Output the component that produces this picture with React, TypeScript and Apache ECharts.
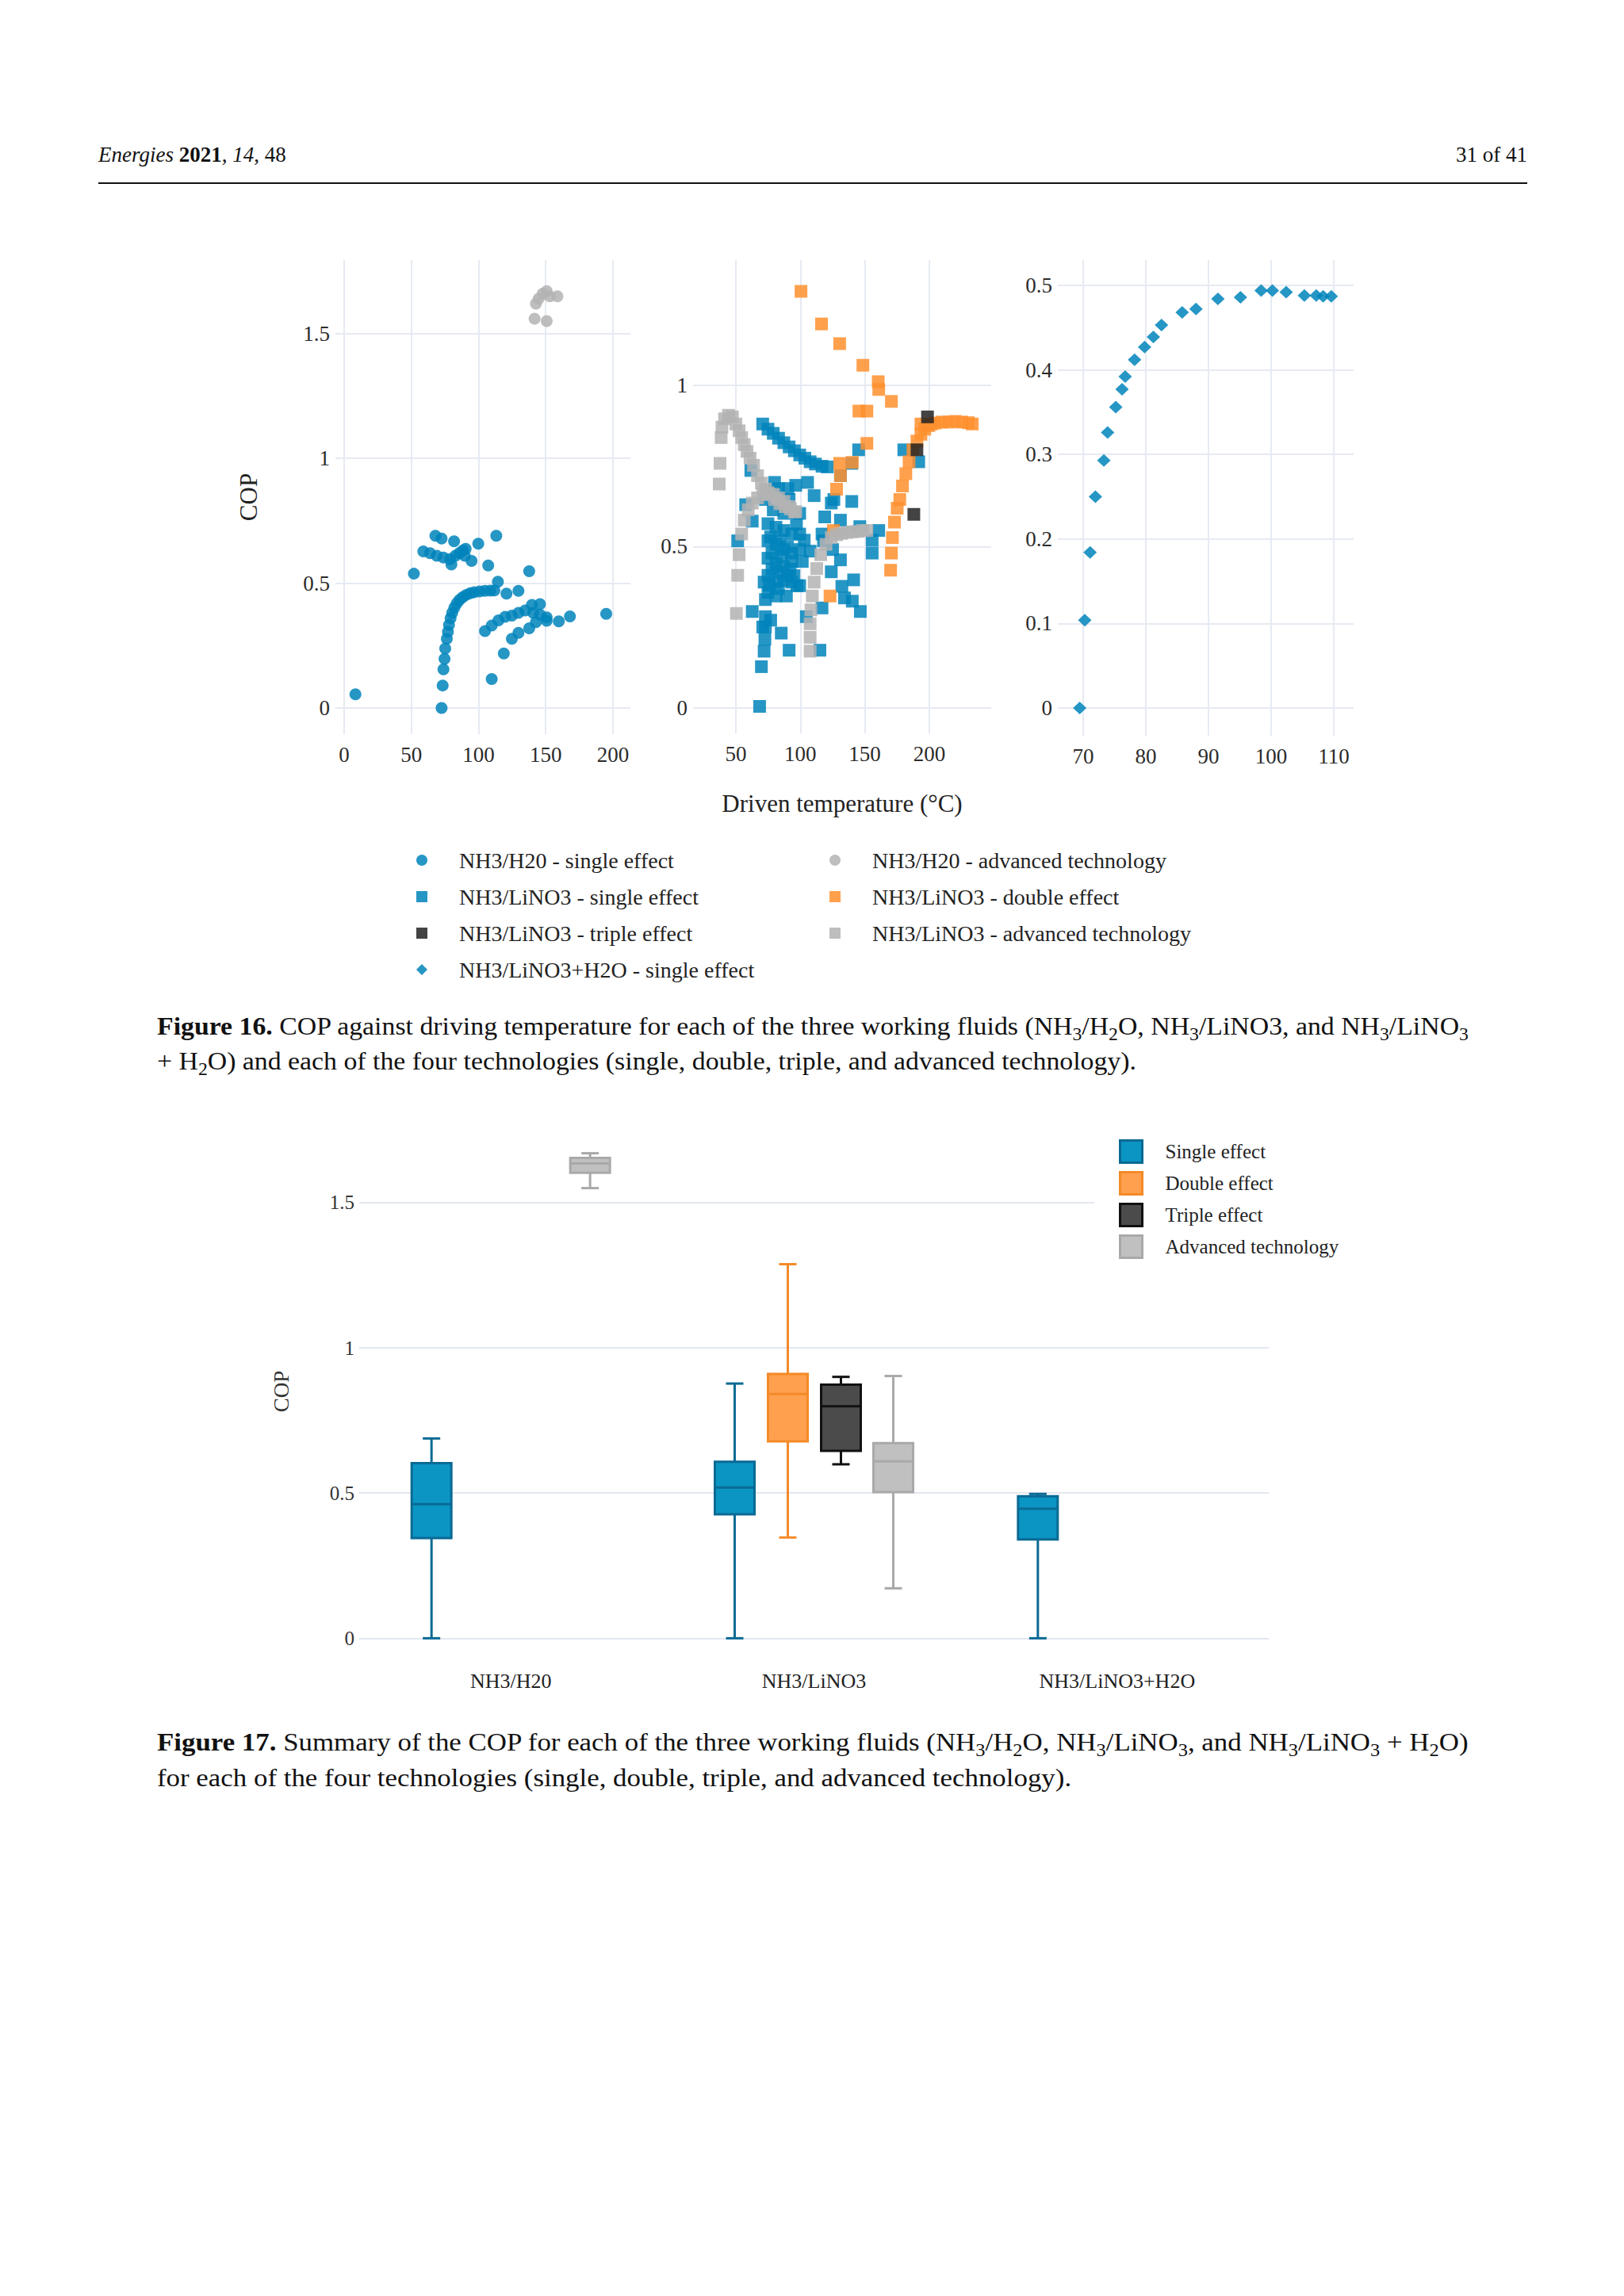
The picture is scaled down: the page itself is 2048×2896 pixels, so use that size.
import { useEffect, useLayoutEffect, useRef } from 'react';
import * as echarts from 'echarts';

const FONT = '"Liberation Serif", "Times New Roman", serif';
const GRID_COLOR = '#e6eaf2';

// Figure 16, left panel: NH3/H2O
const nh3h2oSingle = [
  [8.4, 0.055], [51.9, 0.538], [72.5, 0], [73.3, 0.09], [73.9, 0.155], [74.7, 0.197], [75.2, 0.238],
  [76.4, 0.277], [77.2, 0.305], [78, 0.333], [79.2, 0.36], [80.4, 0.381], [82, 0.402], [83.8, 0.419],
  [85.8, 0.433], [88.2, 0.444], [90.8, 0.453], [93.8, 0.46], [96.8, 0.464], [100.8, 0.467], [104.8, 0.469],
  [108.8, 0.47], [111.8, 0.471], [114.4, 0.506], [120.8, 0.458], [129.7, 0.469],
  [58.9, 0.627], [63.9, 0.62], [68.9, 0.61], [73.9, 0.603], [78.8, 0.596], [82.8, 0.61], [85.8, 0.621],
  [88.4, 0.631], [90.4, 0.638], [89.8, 0.61], [94.8, 0.589], [79.8, 0.575],
  [67.9, 0.69], [72.5, 0.679], [81.8, 0.668], [99.8, 0.658], [113.2, 0.69], [107.2, 0.571], [137.7, 0.548],
  [104.8, 0.308], [109.8, 0.33], [114.8, 0.351], [119.8, 0.365], [124.8, 0.37], [129.7, 0.381], [134.7, 0.391],
  [139.7, 0.413], [145.7, 0.416], [140.7, 0.381], [145.7, 0.374], [150.7, 0.363], [150.7, 0.349], [159.7, 0.347],
  [168, 0.367], [195, 0.377], [137.7, 0.319], [142.7, 0.344], [129.7, 0.301], [124.8, 0.277], [118.8, 0.218],
  [109.8, 0.116],
];
const nh3h2oAdvanced = [
  [141.7, 1.56], [150.7, 1.55], [142.7, 1.62], [144.7, 1.64], [147.7, 1.66], [150.7, 1.67], [153, 1.65], [158.7, 1.65],
];

// Figure 16, middle panel: NH3/LiNO3
const lino3Single = [
  [70.8, 0.88], [74.9, 0.864], [79, 0.851], [83.1, 0.836], [87.2, 0.822], [91.3, 0.809], [95.4, 0.797],
  [99.5, 0.784], [103.5, 0.774], [107.6, 0.763], [111.7, 0.756], [116.8, 0.749], [120.9, 0.747],
  [68.4, 0.005], [69.8, 0.128], [71.9, 0.176], [72.5, 0.213], [72.9, 0.251], [72.9, 0.283], [72.9, 0.336],
  [62.7, 0.299], [85.2, 0.232], [91.3, 0.179], [115.2, 0.179], [116.8, 0.31], [104.6, 0.283], [51.4, 0.518],
  [62.7, 0.579], [57.6, 0.63], [61.6, 0.736], [80, 0.699], [90.3, 0.68], [96.4, 0.69], [105.6, 0.699],
  [110.7, 0.658], [124, 0.635], [131.1, 0.72], [139.9, 0.758], [145.2, 0.8], [139.9, 0.64], [131.1, 0.582],
  [146.1, 0.562], [160.8, 0.55], [155.7, 0.52], [155.7, 0.48], [117.9, 0.518], [125, 0.491], [131.1, 0.459],
  [124, 0.422], [132.2, 0.377], [141.3, 0.397], [140.3, 0.331], [146.5, 0.299], [134.2, 0.341], [180.2, 0.8],
  [191.8, 0.763],
  [74.9, 0.571], [81.1, 0.56], [87.2, 0.55], [93.3, 0.539], [74.9, 0.518], [81.1, 0.507], [87.2, 0.491],
  [93.3, 0.48], [99.5, 0.491], [107.6, 0.486], [74.9, 0.464], [81.1, 0.448], [87.2, 0.438], [93.3, 0.454],
  [74.9, 0.411], [81.1, 0.39], [87.2, 0.395], [93.3, 0.39], [99.5, 0.379], [74.9, 0.358], [81.1, 0.347],
  [89.2, 0.347], [97.4, 0.379], [79, 0.614], [87.2, 0.603], [91.3, 0.646], [72.9, 0.646], [99.5, 0.603],
  [83.1, 0.68], [99.5, 0.539], [101.5, 0.454], [70.8, 0.251], [77, 0.272], [71.9, 0.39], [116.8, 0.539],
  [118.9, 0.592], [126, 0.646], [77, 0.53], [84, 0.52], [90, 0.5], [78, 0.48], [85, 0.47], [92, 0.43],
  [78, 0.43], [84, 0.42], [90, 0.41], [76, 0.38], [83, 0.37], [95, 0.41], [103, 0.52], [97, 0.57],
];
const lino3Double = [
  [100.5, 1.291], [116.4, 1.19], [130.5, 1.129], [148.5, 1.062], [160.4, 1.011], [160.8, 0.987], [170.6, 0.95],
  [145.4, 0.92], [151.6, 0.92], [151.6, 0.82], [140.3, 0.761], [130.5, 0.758], [131.1, 0.72], [128.1, 0.678],
  [125.6, 0.55], [123, 0.347],
  [170, 0.427], [170.6, 0.48], [171.4, 0.528], [173, 0.576], [175.1, 0.619], [177.1, 0.646], [179.2, 0.688],
  [181.8, 0.726], [184.3, 0.763], [187.3, 0.8], [190.4, 0.827], [193.5, 0.848], [196.5, 0.864], [199.6, 0.875],
  [193.5, 0.88], [201.6, 0.88], [204.7, 0.883], [209.8, 0.886], [214.9, 0.886], [220, 0.888], [225.2, 0.886],
  [230.3, 0.884], [233.3, 0.88],
];
const lino3Triple = [[198.6, 0.902], [190.4, 0.8], [188, 0.6]];
const lino3Advanced = [
  [37.1, 0.694], [37.7, 0.758], [38.6, 0.838], [39.2, 0.87], [41.2, 0.896], [44.3, 0.907], [47.3, 0.902],
  [50, 0.88], [52.5, 0.859], [54.5, 0.838], [56.5, 0.816], [58.6, 0.795], [61, 0.774], [63.7, 0.752],
  [66.8, 0.72], [69.8, 0.697], [72.9, 0.678], [76, 0.662], [80, 0.646], [84.1, 0.633], [88.2, 0.624],
  [92.3, 0.617], [96.4, 0.608],
  [50.4, 0.293], [51.4, 0.411], [52.5, 0.475], [54.5, 0.539], [56.5, 0.582], [59.6, 0.614], [62.7, 0.635],
  [66.8, 0.651], [70.8, 0.662], [74.9, 0.667], [79, 0.662], [83.1, 0.651], [87.2, 0.64], [91.3, 0.624],
  [95.4, 0.608],
  [107.6, 0.176], [107.6, 0.219], [107.6, 0.261], [108.2, 0.304], [109.3, 0.347], [110.7, 0.39], [112.7, 0.432],
  [115.8, 0.475], [119.9, 0.507], [124, 0.528], [128.1, 0.537], [132.2, 0.541], [136.2, 0.544], [140.3, 0.546],
  [144.4, 0.547], [148.5, 0.55], [151.6, 0.55],
];

// Figure 16, right panel: NH3/LiNO3+H2O
const lino3h2oSingle = [
  [69.45, 0], [70.25, 0.104], [71.1, 0.184], [71.95, 0.25], [73.3, 0.293], [73.9, 0.326], [75.2, 0.356],
  [76.2, 0.377], [76.7, 0.392], [78.2, 0.412], [79.8, 0.427], [81.2, 0.439], [82.5, 0.453], [85.8, 0.468],
  [88, 0.472], [91.5, 0.484], [95.1, 0.486], [98.4, 0.494], [100.2, 0.494], [102.4, 0.492], [105.3, 0.488],
  [107.2, 0.488], [108.3, 0.487], [109.6, 0.487],
];

// Figure 17: [category index, min, Q1, median, Q3, max]
const boxCategories = ['NH3/H20', 'NH3/LiNO3', 'NH3/LiNO3+H2O'];
const boxSingle = [
  [0, 0, 0.345, 0.462, 0.603, 0.688],
  [1, 0, 0.427, 0.519, 0.608, 0.877],
  [2, 0, 0.34, 0.446, 0.489, 0.497],
];
const boxDouble = [[1, 0.347, 0.678, 0.841, 0.91, 1.288]];
const boxTriple = [[1, 0.599, 0.645, 0.799, 0.873, 0.9]];
const boxAdvanced = [
  [0, 1.55, 1.603, 1.635, 1.654, 1.67],
  [1, 0.172, 0.503, 0.609, 0.672, 0.903],
];

const legendLeft = [
  'NH3/H20 - single effect',
  'NH3/LiNO3 - single effect',
  'NH3/LiNO3 - triple effect',
  'NH3/LiNO3+H2O - single effect',
];
const legendRight = [
  'NH3/H20 - advanced technology',
  'NH3/LiNO3 - double effect',
  'NH3/LiNO3 - advanced technology',
];

const tickStyle = { fontFamily: FONT, fontSize: 27, color: '#2b2b2b' };

function valueAxis(gridIndex: number, min: number, max: number, isX: boolean, extra: any = {}) {
  return {
    type: 'value',
    gridIndex,
    min,
    max,
    axisLine: { show: false },
    axisTick: { show: false },
    axisLabel: { ...tickStyle, margin: isX ? 12 : 7, showMinLabel: false, showMaxLabel: false },
    splitLine: {
      show: true,
      showMinLine: false,
      showMaxLine: false,
      lineStyle: { color: GRID_COLOR, width: 2 },
    },
    ...extra,
  };
}

function scatter(name: string, data: number[][], grid: number, symbol: string, size: any, color: string) {
  return {
    type: 'scatter',
    name,
    data,
    xAxisIndex: grid,
    yAxisIndex: grid,
    symbol,
    symbolSize: size,
    itemStyle: { color, opacity: 0.85 },
  };
}

function boxSeries(name: string, data: number[][], offset: number, fill: string, stroke: string) {
  return {
    type: 'custom',
    name,
    data,
    xAxisIndex: 3,
    yAxisIndex: 3,
    encode: { x: 0, y: [1, 2, 3, 4, 5] },
    itemStyle: { color: fill, borderColor: stroke },
    renderItem: (_params: any, api: any) => {
      const cat = api.value(0);
      const x = api.coord([cat, 0])[0] + offset;
      const y = (i: number) => api.coord([cat, api.value(i)])[1];
      const yMin = y(1);
      const yQ1 = y(2);
      const yMed = y(3);
      const yQ3 = y(4);
      const yMax = y(5);
      const line = (x1: number, y1: number, x2: number, y2: number) => ({
        type: 'line',
        shape: { x1, y1, x2, y2 },
        style: { stroke, lineWidth: 3 },
      });
      return {
        type: 'group',
        children: [
          line(x, yMax, x, yQ3),
          line(x, yQ1, x, yMin),
          line(x - 11, yMax, x + 11, yMax),
          line(x - 11, yMin, x + 11, yMin),
          {
            type: 'rect',
            shape: { x: x - 25, y: yQ3, width: 50, height: yQ1 - yQ3 },
            style: { fill, stroke, lineWidth: 3 },
          },
          line(x - 25, yMed, x + 25, yMed),
        ],
      };
    },
  };
}

const BLUE = '#0084bb';
const ORANGE = '#ff8f2e';
const GRAY = '#b3b3b3';
const DARK = '#222222';

function buildOption(): any {
  return {
    animation: false,
    textStyle: { fontFamily: FONT },
    grid: [
      { left: 423, top: 328, width: 372, height: 598 },
      { left: 874, top: 328, width: 376, height: 597 },
      { left: 1334, top: 328, width: 373, height: 600 },
      { left: 453, top: 1407, width: 1147, height: 696 },
    ],
    xAxis: [
      valueAxis(0, -6.49, 213, true),
      valueAxis(1, 16.8, 248, true, {
        name: 'Driven temperature (°C)',
        nameLocation: 'middle',
        nameGap: 73,
        nameTextStyle: { fontFamily: FONT, fontSize: 31, color: '#222' },
      }),
      valueAxis(2, 65.95, 113.16, true),
      {
        type: 'category',
        gridIndex: 3,
        data: boxCategories,
        axisLine: { show: false },
        axisTick: { show: false },
        splitLine: { show: false },
        axisLabel: { fontFamily: FONT, fontSize: 26, color: '#222', margin: 4 },
      },
    ],
    yAxis: [
      valueAxis(0, -0.105, 1.795, false, {
        splitNumber: 4,
        name: 'COP',
        nameLocation: 'middle',
        nameGap: 94,
        nameTextStyle: { fontFamily: FONT, fontSize: 31, color: '#222' },
      }),
      valueAxis(1, -0.0786, 1.388, false, { splitNumber: 3 }),
      valueAxis(2, -0.0328, 0.53, false),
      {
        type: 'value',
        gridIndex: 3,
        min: -0.1,
        max: 1.8,
        splitNumber: 4,
        axisLine: { show: false },
        axisTick: { show: false },
        axisLabel: {
          fontFamily: FONT,
          fontSize: 25,
          color: '#333',
          margin: 6,
          showMinLabel: false,
          showMaxLabel: false,
        },
        splitLine: {
          show: true,
          showMinLine: false,
          showMaxLine: false,
          lineStyle: { color: '#e2e7ef', width: 2 },
        },
        name: 'COP',
        nameLocation: 'middle',
        nameGap: 85,
        nameTextStyle: { fontFamily: FONT, fontSize: 27, color: '#333' },
      },
    ],
    legend: [
      {
        data: legendLeft,
        orient: 'vertical',
        left: 525,
        top: 1071,
        padding: 0,
        itemWidth: 14,
        itemHeight: 14,
        itemGap: 18,
        selectedMode: false,
        textStyle: { fontFamily: FONT, fontSize: 28, color: '#222', padding: [0, 0, 0, 35] },
      },
      {
        data: legendRight,
        orient: 'vertical',
        left: 1046,
        top: 1071,
        padding: 0,
        itemWidth: 14,
        itemHeight: 14,
        itemGap: 18,
        selectedMode: false,
        textStyle: { fontFamily: FONT, fontSize: 28, color: '#222', padding: [0, 0, 0, 35] },
      },
      {
        data: [
          { name: 'Single effect', icon: 'rect', itemStyle: { color: '#0b95c3', borderColor: '#0a6a94', borderWidth: 3 } },
          { name: 'Double effect', icon: 'rect', itemStyle: { color: '#ffa04f', borderColor: '#f48a27', borderWidth: 3 } },
          { name: 'Triple effect', icon: 'rect', itemStyle: { color: '#4b4b4b', borderColor: '#111111', borderWidth: 3 } },
          { name: 'Advanced technology', icon: 'rect', itemStyle: { color: '#c0c0c0', borderColor: '#a9a9a9', borderWidth: 3 } },
        ],
        orient: 'vertical',
        left: 1380,
        top: 1427,
        padding: [10, 20, 10, 31],
        backgroundColor: '#ffffff',
        itemWidth: 28,
        itemHeight: 28,
        itemGap: 9,
        selectedMode: false,
        textStyle: { fontFamily: FONT, fontSize: 25, color: '#222', padding: [0, 0, 0, 24] },
      },
    ],
    series: [
      scatter('NH3/H20 - single effect', nh3h2oSingle, 0, 'circle', 15, BLUE),
      scatter('NH3/H20 - advanced technology', nh3h2oAdvanced, 0, 'circle', 15, GRAY),
      scatter('NH3/LiNO3 - single effect', lino3Single, 1, 'rect', 16, BLUE),
      scatter('NH3/LiNO3 - double effect', lino3Double, 1, 'rect', 16, ORANGE),
      scatter('NH3/LiNO3 - advanced technology', lino3Advanced, 1, 'rect', 16, GRAY),
      scatter('NH3/LiNO3 - triple effect', lino3Triple, 1, 'rect', 16, DARK),
      scatter('NH3/LiNO3+H2O - single effect', lino3h2oSingle, 2, 'diamond', [17, 16], BLUE),
      boxSeries('Single effect', boxSingle, -100, '#0b95c3', '#0a6a94'),
      boxSeries('Double effect', boxDouble, -33, '#ffa04f', '#f48a27'),
      boxSeries('Triple effect', boxTriple, 34, '#4b4b4b', '#111111'),
      boxSeries('Advanced technology', boxAdvanced, 100, '#c0c0c0', '#a9a9a9'),
    ],
  };
}

const sub = (t: string) => <sub style={{ fontSize: '0.7em', lineHeight: 0 }}>{t}</sub>;

// full first-line width of each caption in the reference
const CAPTION_WIDTH = 1654;

export default function App() {
  const chartRef = useRef<HTMLDivElement>(null);
  const cap16a = useRef<HTMLDivElement>(null);
  const cap16b = useRef<HTMLDivElement>(null);
  const cap17a = useRef<HTMLDivElement>(null);
  const cap17b = useRef<HTMLDivElement>(null);

  useEffect(() => {
    if (!chartRef.current) return;
    const chart = echarts.init(chartRef.current, null, { renderer: 'svg' });
    chart.setOption(buildOption());
    return () => {
      chart.dispose();
    };
  }, []);

  // squeeze each caption so its first line fills the text block, like the condensed original
  useLayoutEffect(() => {
    const fit = (a: HTMLDivElement | null, b: HTMLDivElement | null) => {
      if (!a || !b) return;
      const s = CAPTION_WIDTH / a.offsetWidth;
      a.style.transform = `scaleX(${s})`;
      b.style.transform = `scaleX(${s})`;
    };
    fit(cap16a.current, cap16b.current);
    fit(cap17a.current, cap17b.current);
  }, []);

  const captionLine = {
    position: 'absolute' as const,
    left: 198,
    fontSize: 32,
    lineHeight: '44px',
    color: '#111',
    whiteSpace: 'nowrap' as const,
    transformOrigin: 'left center',
  };

  return (
    <div
      style={{
        position: 'absolute',
        left: 0,
        top: 0,
        width: 2048,
        height: 2896,
        background: '#fff',
        fontFamily: FONT,
        overflow: 'hidden',
      }}
    >
      <div style={{ position: 'absolute', left: 124, top: 180, fontSize: 27, color: '#111' }}>
        <i>Energies</i> <b>2021</b>, <i>14</i>, 48
      </div>
      <div style={{ position: 'absolute', right: 122, top: 180, fontSize: 27, color: '#111' }}>31 of 41</div>
      <div style={{ position: 'absolute', left: 124, top: 230, width: 1802, height: 2, background: '#111' }} />

      <div ref={chartRef} style={{ position: 'absolute', left: 0, top: 0, width: 2048, height: 2400 }} />

      <div ref={cap16a} style={{ ...captionLine, top: 1272 }}>
        <b>Figure 16.</b> COP against driving temperature for each of the three working fluids (NH{sub('3')}/H{sub('2')}O,
        NH{sub('3')}/LiNO3, and NH{sub('3')}/LiNO{sub('3')}
      </div>
      <div ref={cap16b} style={{ ...captionLine, top: 1316 }}>
        + H{sub('2')}O) and each of the four technologies (single, double, triple, and advanced technology).
      </div>

      <div ref={cap17a} style={{ ...captionLine, top: 2175 }}>
        <b>Figure 17.</b> Summary of the COP for each of the three working fluids (NH{sub('3')}/H{sub('2')}O,
        NH{sub('3')}/LiNO{sub('3')}, and NH{sub('3')}/LiNO{sub('3')} + H{sub('2')}O)
      </div>
      <div ref={cap17b} style={{ ...captionLine, top: 2220 }}>
        for each of the four technologies (single, double, triple, and advanced technology).
      </div>
    </div>
  );
}
